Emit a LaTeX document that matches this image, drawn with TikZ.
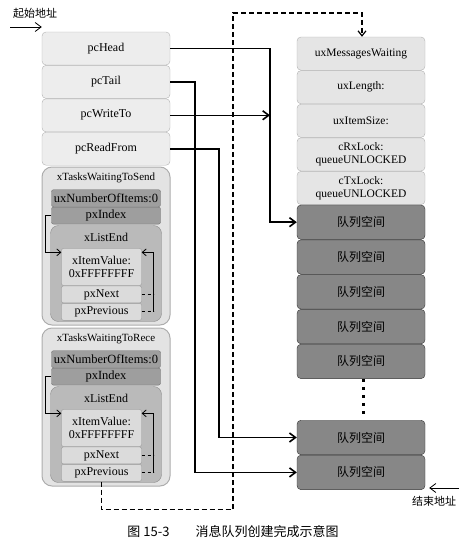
\documentclass[tikz,border=0pt]{standalone}
\usepackage{fontspec}
\setmainfont{Liberation Serif}
\newfontfamily\cjk{Noto Sans CJK SC}
\usetikzlibrary{arrows.meta}
\usetikzlibrary{positioning}

\tikzset{
  ptrbox/.style={draw=black!30, fill=black!7, rounded corners=4pt, minimum width=128pt, minimum height=33pt, inner sep=0pt},
  grpbox/.style={draw=black!32, fill=black!11, rounded corners=10pt, minimum width=128pt, minimum height=158pt, line width=1pt},
  darkbox/.style={draw=black!55, fill=black!38, rounded corners=2pt, minimum width=109pt, minimum height=17pt, inner sep=0pt, font=\fontsize{12.5}{14}\selectfont},
  endbox/.style={draw=black!45, fill=black!27, rounded corners=8pt, minimum width=111pt, minimum height=96pt},
  litebox/.style={draw=black!40, fill=black!14, rounded corners=2pt, minimum width=80pt, minimum height=17pt, inner sep=0pt, align=center},
  infobox/.style={draw=black!30, fill=black!10, rounded corners=4pt, minimum width=128pt, minimum height=33.2pt, inner sep=0pt, align=center, font=\fontsize{11.5}{13}\selectfont},
  qbox/.style={draw=black!80, fill=black!47, rounded corners=4pt, minimum width=128pt, minimum height=34.4pt, font=\cjk\fontsize{12}{14}\selectfont},
  ptr/.style={ultra thick, -{Straight Barb[length=6pt,width=9pt]}},
  loopptr/.style={thick, -{Straight Barb[length=4pt,width=7pt]}},
}

\begin{document}
\begin{tikzpicture}[x=1pt, y=-1pt, font=\fontsize{12}{13.5}\selectfont]
    \useasboundingbox (0,0) rectangle (474,554);

    % queue pointers
    \node [ptrbox] (pcHead) at (106,48.5) {pcHead};
    \node [ptrbox, below=0pt of pcHead] (pcTail) {pcTail};
    \node [ptrbox, below=0pt of pcTail] (pcWriteTo) {pcWriteTo};
    \node [ptrbox, below=0pt of pcWriteTo] (pcReadFrom) {pcReadFrom};

    % xTasksWaitingToSend
    \node [grpbox] (grpSend) at (106,246) {};
    \node [font=\fontsize{11}{13}\selectfont] (titleSend) at ([yshift=-11pt]grpSend.north) {xTasksWaitingToSend};
    \node [darkbox, below=23pt of grpSend.north] (uxnSend) {uxNumberOfItems:0};
    \node [darkbox, below=0pt of uxnSend] (pxIdxSend) {pxIndex};
    \node [endbox, below=1pt of pxIdxSend] (listSend) {};
    \node (leSend) at ([yshift=-12pt]listSend.north) {xListEnd};
    \node [litebox, minimum height=37pt, below=23pt of listSend.north, xshift=-4.5pt] (xivSend) {xItemValue:\\0xFFFFFFFF};
    \node [litebox, below=0pt of xivSend] (nextSend) {pxNext};
    \node [litebox, below=0pt of nextSend] (prevSend) {pxPrevious};

    \draw [loopptr] (pxIdxSend.west) -- ++(-6,0) |- (xivSend.160);
    \draw [thick, dashed] (nextSend.east) -- ++(12,0);
    \draw [thick, dashed] (prevSend.east) -- ++(12,0) coordinate (backSend);
    \draw [loopptr] (backSend) |- (xivSend.20);

    % xTasksWaitingToRece
    \node [grpbox] (grpRece) at (106,407) {};
    \node [font=\fontsize{11}{13}\selectfont] (titleRece) at ([yshift=-11pt]grpRece.north) {xTasksWaitingToRece};
    \node [darkbox, below=23pt of grpRece.north] (uxnRece) {uxNumberOfItems:0};
    \node [darkbox, below=0pt of uxnRece] (pxIdxRece) {pxIndex};
    \node [endbox, below=1pt of pxIdxRece] (listRece) {};
    \node (leRece) at ([yshift=-12pt]listRece.north) {xListEnd};
    \node [litebox, minimum height=37pt, below=23pt of listRece.north, xshift=-4.5pt] (xivRece) {xItemValue:\\0xFFFFFFFF};
    \node [litebox, below=0pt of xivRece] (nextRece) {pxNext};
    \node [litebox, below=0pt of nextRece] (prevRece) {pxPrevious};

    \draw [loopptr] (pxIdxRece.west) -- ++(-6,0) |- (xivRece.160);
    \draw [thick, dashed] (nextRece.east) -- ++(12,0);
    \draw [thick, dashed] (prevRece.east) -- ++(12,0) coordinate (backRece);
    \draw [loopptr] (backRece) |- (xivRece.20);

    % queue structure and storage
    \node [infobox] (uxMsg) at (361,53.6) {uxMessagesWaiting};
    \node [infobox, below=0pt of uxMsg] (uxLen) {uxLength:};
    \node [infobox, below=0pt of uxLen] (uxSize) {uxItemSize:};
    \node [infobox, below=0pt of uxSize] (rxLock) {cRxLock:\\queueUNLOCKED};
    \node [infobox, below=0pt of rxLock] (txLock) {cTxLock:\\queueUNLOCKED};
    \node [qbox, below=0pt of txLock] (q1) {队列空间};
    \node [qbox, below=0pt of q1] (q2) {队列空间};
    \node [qbox, below=0pt of q2] (q3) {队列空间};
    \node [qbox, below=0pt of q3] (q4) {队列空间};
    \node [qbox, below=0pt of q4] (q5) {队列空间};
    \node [qbox, minimum height=34.5pt] (q6) at (361,437.5) {队列空间};
    \node [qbox, minimum height=34.5pt, below=0pt of q6] (q7) {队列空间};

    \coordinate (gapEnd) at (363,416);
    \draw [line width=3pt, dash pattern=on 3pt off 5pt] ([xshift=2pt]q5.south) -- (gapEnd);

    % pointer lines
    \coordinate (headDrop) at (270,48.5);
    \draw [ptr] (pcHead.east) -- (headDrop) |- (q1.west);
    \draw [ptr] (pcWriteTo.east) -- (pcWriteTo.east -| headDrop);
    \draw [ptr] (pcTail.east) -- ++(25,0) |- (q7.west);
    \draw [ptr] (pcReadFrom.east) -- ++(49,0) |- (q6.west);

    % loop back to the top
    \coordinate (loopTop) at (233,13);
    \draw [very thick, dash pattern=on 5pt off 3pt, -{Straight Barb[length=5pt,width=8pt]}]
        (prevRece.south) -- ++(0,28) -| (loopTop) -| ([xshift=1pt]uxMsg.north);

    % start and end address
    \node [font=\cjk\fontsize{11}{13}\selectfont] (startLbl) at (35,13) {起始地址};
    \coordinate (startIn) at (10,27);
    \draw [ptr, thick] (startIn) -- (startIn -| pcHead.west);
    \node [font=\cjk\fontsize{11}{13}\selectfont] (endLbl) at (434,501) {结束地址};
    \coordinate (endIn) at (459,488);
    \draw [ptr, thick, shorten >=4pt] (endIn) -- (endIn -| q7.east);

    \node [font=\cjk\fontsize{13}{15}\selectfont] (caption) at (233,532) {图 15-3\quad\quad 消息队列创建完成示意图};
\end{tikzpicture}
\end{document}
